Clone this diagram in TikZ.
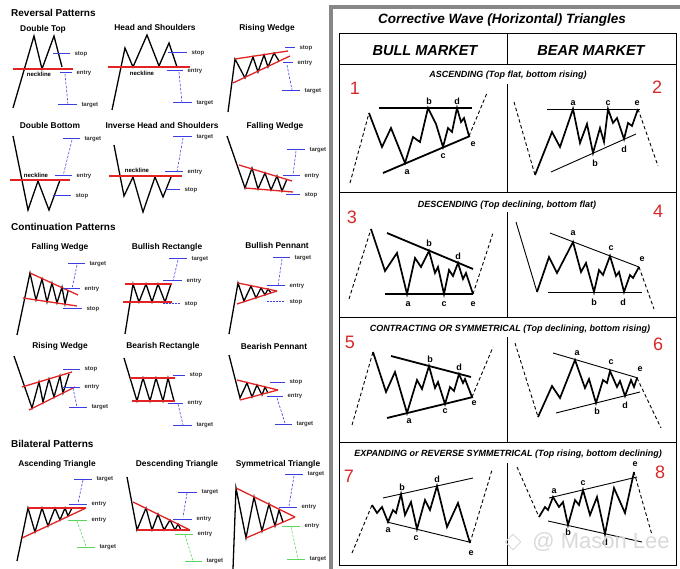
\documentclass[tikz,border=0pt]{standalone}
\usepackage{fontspec}
\setmainfont{Liberation Sans}
\definecolor{lvlblue}{RGB}{60,60,225}
\definecolor{lvlgreen}{RGB}{90,215,90}
\definecolor{trendred}{RGB}{225,35,35}
\definecolor{framegray}{RGB}{135,135,135}
\definecolor{numred}{RGB}{215,40,40}
\begin{document}
\begin{tikzpicture}[x=1pt,y=-1pt,
  zig/.style={line width=1.3pt,line join=miter},
  trend/.style={trendred,line width=1.3pt},
  lvl/.style={lvlblue,line width=1pt},
  glvl/.style={lvlgreen,line width=1pt},
  gap/.style={dashed,dash pattern=on 2.5pt off 1.5pt,line width=.6pt},
  lbl/.style={anchor=west,xshift=3pt,inner sep=1pt,font=\fontsize{6}{7}\selectfont\bfseries,text=black!80},
  nl/.style={inner sep=0pt,font=\fontsize{6}{7}\selectfont\bfseries},
  sec/.style={anchor=west,inner sep=0pt,font=\fontsize{10}{12}\selectfont\bfseries},
  ptitle/.style={inner sep=0pt,font=\fontsize{8.4}{10}\selectfont\bfseries},
  wave/.style={line width=1.7pt,line join=miter},
  bndthick/.style={line width=1.8pt},
  bndthin/.style={line width=.9pt},
  ext/.style={dashed,dash pattern=on 3.5pt off 2.5pt,line width=.9pt},
  wl/.style={inner sep=0pt,font=\fontsize{9}{10}\selectfont\bfseries},
  num/.style={inner sep=0pt,text=numred,font=\fontsize{18}{20}\selectfont},
  sub/.style={inner sep=0pt,font=\fontsize{9}{11}\selectfont\bfseries\itshape},
  mkt/.style={inner sep=0pt,font=\fontsize{14.5}{16}\selectfont\bfseries\itshape}]
\useasboundingbox (0,0) rectangle (680,569);

% ---------- left panel: chart patterns
\node[sec] (rev)  at (11,13)  {Reversal Patterns};
\node[sec] (cont) at (11,227) {Continuation Patterns};
\node[sec] (bil)  at (11,444) {Bilateral Patterns};

\node[ptitle] (t-dtop) at (43,29)  {Double Top};
\node[ptitle] (t-hs)   at (155,28) {Head and Shoulders};
\node[ptitle] (t-rw)   at (267,28) {Rising Wedge};
\node[ptitle] (t-dbot) at (50,126) {Double Bottom};
\node[ptitle] (t-ihs)  at (162,126) {Inverse Head and Shoulders};
\node[ptitle] (t-fw)   at (275,126) {Falling Wedge};
\node[ptitle] (t-cfw)  at (60,247) {Falling Wedge};
\node[ptitle] (t-bur)  at (167,247) {Bullish Rectangle};
\node[ptitle] (t-bup)  at (277,245) {Bullish Pennant};
\node[ptitle] (t-crw)  at (60,346) {Rising Wedge};
\node[ptitle] (t-ber)  at (163,346) {Bearish Rectangle};
\node[ptitle] (t-bep)  at (274,346) {Bearish Pennant};
\node[ptitle] (t-asc)  at (57,464) {Ascending Triangle};
\node[ptitle] (t-desc) at (177,464) {Descending Triangle};
\node[ptitle] (t-sym)  at (278,464) {Symmetrical Triangle};

% double top
\draw[zig] (13,108) -- (34,36) -- (42,69) -- (54,36) -- (62,67);
\draw[trend] (13,69) -- (73,69);
\node[nl] (dtop-nl) at (39,74) {neckline};
\draw[lvl] (53,54) -- (70,54) node[lbl] (dtop-stop) {stop};
\draw[lvl] (60,73) -- (72,73) node[lbl] (dtop-entry) {entry};
\draw[lvl,gap] (65,74) -- (68,105);
\draw[lvl] (58,105) -- (77,105) node[lbl] (dtop-target) {target};

% head and shoulders
\draw[zig] (112,110) -- (125,48) -- (133,67) -- (147,35) -- (159,66) -- (169,43) -- (177,67);
\draw[trend] (108,67) -- (190,67);
\node[nl] (hs-nl) at (142,73) {neckline};
\draw[lvl] (168,53) -- (187,53) node[lbl] (hs-stop) {stop};
\draw[lvl] (167,71) -- (183,71) node[lbl] (hs-entry) {entry};
\draw[lvl,gap] (179,72) -- (182,103);
\draw[lvl] (173,103) -- (192,103) node[lbl] (hs-target) {target};

% rising wedge
\draw[zig] (228,112) -- (235,59) -- (245,78) -- (253,57) -- (258,72) -- (264,55) -- (268,67) -- (274,53) -- (279,61);
\draw[trend] (235,59) -- (288,51);
\draw[trend] (233,83) -- (290,56);
\draw[lvl] (285,48) -- (295,48) node[lbl] (rw-stop) {stop};
\draw[lvl] (283,63) -- (293,63) node[lbl] (rw-entry) {entry};
\draw[lvl,gap] (287,65) -- (292,90);
\draw[lvl] (282,91) -- (300,91) node[lbl] (rw-target) {target};

% double bottom
\draw[zig] (13,136) -- (28,210) -- (38,181) -- (49,210) -- (60,180);
\draw[trend] (10,180) -- (70,180);
\node[nl] (dbot-nl) at (36,175) {neckline};
\draw[lvl] (63,139) -- (80,139) node[lbl] (dbot-target) {target};
\draw[lvl,gap] (72,140) -- (63,176);
\draw[lvl] (55,176) -- (72,176) node[lbl] (dbot-entry) {entry};
\draw[lvl] (53,196) -- (71,196) node[lbl] (dbot-stop) {stop};

% inverse head and shoulders
\draw[zig] (114,145) -- (124,196) -- (133,177) -- (143,212) -- (155,177) -- (163,197) -- (171,177);
\draw[trend] (109,176) -- (182,176);
\node[nl] (ihs-nl) at (137,170) {neckline};
\draw[lvl] (173,137) -- (192,137) node[lbl] (ihs-target) {target};
\draw[lvl,gap] (183,138) -- (177,172);
\draw[lvl] (165,172) -- (183,172) node[lbl] (ihs-entry) {entry};
\draw[lvl] (165,190) -- (180,190) node[lbl] (ihs-stop) {stop};

% falling wedge
\draw[zig] (227,136) -- (245,188) -- (252,168) -- (258,189) -- (265,173) -- (271,190) -- (277,176) -- (282,191) -- (287,179);
\draw[trend] (239,165) -- (292,181);
\draw[trend] (245,188) -- (293,192);
\draw[lvl] (287,150) -- (305,150) node[lbl] (fw-target) {target};
\draw[lvl,gap] (296,151) -- (293,175);
\draw[lvl] (283,176) -- (300,176) node[lbl] (fw-entry) {entry};
\draw[lvl] (286,195) -- (300,195) node[lbl] (fw-stop) {stop};

% falling wedge (continuation)
\draw[zig] (17,335) -- (30,273) -- (36,300) -- (42,279) -- (47,302) -- (52,283) -- (57,303) -- (62,287) -- (65,304) -- (68,291);
\draw[trend] (30,273) -- (78,295);
\draw[trend] (23,298) -- (77,306);
\draw[lvl] (68,264) -- (85,264) node[lbl] (cfw-target) {target};
\draw[lvl,gap] (77,265) -- (72,289);
\draw[lvl] (63,289) -- (80,289) node[lbl] (cfw-entry) {entry};
\draw[lvl] (63,309) -- (82,309) node[lbl] (cfw-stop) {stop};

% bullish rectangle
\draw[zig] (125,334) -- (133,284) -- (139,302) -- (146,284) -- (152,302) -- (158,284) -- (165,302) -- (171,284);
\draw[trend] (125,284) -- (172,284);
\draw[trend] (123,302) -- (172,302);
\draw[lvl] (169,259) -- (187,259) node[lbl] (bur-target) {target};
\draw[lvl,gap] (178,260) -- (173,281);
\draw[lvl] (163,281) -- (182,281) node[lbl] (bur-entry) {entry};
\draw[lvl,dash pattern=on 2pt off 1pt] (163,304) -- (180,304) node[lbl] (bur-stop) {stop};

% bullish pennant
\draw[zig] (229,334) -- (238,283) -- (244,301) -- (251,286) -- (256,298) -- (261,288) -- (265,295) -- (268,289) -- (271,293);
\draw[trend] (238,283) -- (277,291);
\draw[trend] (237,304) -- (277,291);
\draw[lvl] (273,258) -- (290,258) node[lbl] (bup-target) {target};
\draw[lvl,gap] (282,259) -- (278,286);
\draw[lvl] (267,286) -- (285,286) node[lbl] (bup-entry) {entry};
\draw[lvl,dash pattern=on 2pt off 1pt] (267,302) -- (285,302) node[lbl] (bup-stop) {stop};

% rising wedge (continuation)
\draw[zig] (14,356) -- (32,408) -- (39,382) -- (43,402) -- (49,379) -- (54,397) -- (60,376) -- (63,393) -- (69,374);
\draw[trend] (22,387) -- (72,372);
\draw[trend] (29,410) -- (75,387);
\draw[lvl] (63,369) -- (80,369) node[lbl] (crw-stop) {stop};
\draw[lvl] (63,387) -- (80,387) node[lbl] (crw-entry) {entry};
\draw[lvl,gap] (73,388) -- (77,407);
\draw[lvl] (69,407) -- (87,407) node[lbl] (crw-target) {target};

% bearish rectangle
\draw[zig] (124,358) -- (137,401) -- (143,378) -- (150,401) -- (156,378) -- (163,401) -- (168,378) -- (174,401);
\draw[trend] (130,378) -- (175,378);
\draw[trend] (132,401) -- (175,401);
\draw[lvl] (173,375) -- (185,375) node[lbl] (ber-stop) {stop};
\draw[lvl] (168,403) -- (183,403) node[lbl] (ber-entry) {entry};
\draw[lvl,gap] (178,404) -- (183,425);
\draw[lvl] (173,425) -- (192,425) node[lbl] (ber-target) {target};

% bearish pennant
\draw[zig] (229,355) -- (240,398) -- (247,383) -- (252,397) -- (257,385) -- (262,395) -- (265,387) -- (268,393);
\draw[trend] (237,380) -- (278,390);
\draw[trend] (240,400) -- (278,390);
\draw[lvl] (270,382) -- (285,382) node[lbl] (bep-stop) {stop};
\draw[lvl] (267,396) -- (283,396) node[lbl] (bep-entry) {entry};
\draw[lvl,gap] (277,398) -- (285,423);
\draw[lvl] (275,424) -- (292,424) node[lbl] (bep-target) {target};

% ascending triangle
\draw[zig] (17,561) -- (28,508) -- (35,532) -- (42,508) -- (48,526) -- (55,508) -- (60,520) -- (65,508) -- (68,516) -- (72,508);
\draw[trend] (28,508) -- (86,508);
\draw[trend] (22,538) -- (86,508);
\draw[lvl] (74,479) -- (92,479) node[lbl] (asc-target) {target};
\draw[lvl,gap] (83,480) -- (78,503);
\draw[lvl] (69,504) -- (87,504) node[lbl] (asc-entry) {entry};
\draw[glvl] (68,520) -- (87,520) node[lbl] (asc-entry2) {entry};
\draw[glvl,gap] (77,521) -- (86,546);
\draw[glvl] (77,547) -- (95,547) node[lbl] (asc-target2) {target};

% descending triangle
\draw[zig] (127,477) -- (137,530) -- (146,508) -- (152,530) -- (158,514) -- (164,530) -- (170,520) -- (175,530) -- (178,524) -- (181,530);
\draw[trend] (133,502) -- (190,530);
\draw[trend] (137,530) -- (190,530);
\draw[lvl] (178,492) -- (197,492) node[lbl] (desc-target) {target};
\draw[lvl,gap] (187,493) -- (183,517);
\draw[lvl] (173,519) -- (192,519) node[lbl] (desc-entry) {entry};
\draw[glvl] (175,534) -- (193,534) node[lbl] (desc-entry2) {entry};
\draw[glvl,gap] (185,535) -- (193,561);
\draw[glvl] (185,561) -- (202,561) node[lbl] (desc-target2) {target};

% symmetrical triangle
\draw[zig] (233,569) -- (236,488) -- (246,538) -- (254,497) -- (262,531) -- (269,504) -- (275,526) -- (279,510) -- (283,522);
\draw[trend] (236,488) -- (295,517);
\draw[trend] (246,538) -- (295,517);
\draw[lvl] (285,474) -- (303,474) node[lbl] (sym-target) {target};
\draw[lvl,gap] (294,476) -- (289,506);
\draw[lvl] (279,507) -- (297,507) node[lbl] (sym-entry) {entry};
\draw[glvl] (282,526) -- (300,526) node[lbl] (sym-entry2) {entry};
\draw[glvl,gap] (291,527) -- (298,559);
\draw[glvl] (287,559) -- (305,559) node[lbl] (sym-target2) {target};

% ---------- right panel: corrective triangles
\draw[framegray,line width=4pt] (331,7) rectangle (690,580);
\draw[line width=.8pt] (339,33) rectangle (676,565);
\draw[line width=.8pt] (339,64) -- (676,64);
\foreach \y in {192,317,442}
  \draw[line width=.8pt] (339,\y) -- (676,\y);
\draw[line width=.8pt] (507,33) -- (507,64);
\draw[line width=.8pt] (507,84) -- (507,192) (507,212) -- (507,317)
                       (507,337) -- (507,442) (507,463) -- (507,565);

\node[inner sep=0pt,font=\fontsize{13.5}{15}\selectfont\bfseries\itshape] (title) at (502,20) {Corrective Wave (Horizontal) Triangles};
\node[mkt] (bull) at (425,51) {BULL MARKET};
\node[mkt] (bear) at (591,51) {BEAR MARKET};

\node[sub] (s-asc) at (508,75)  {ASCENDING (Top flat, bottom rising)};
\node[sub] (s-desc) at (507,205) {DESCENDING (Top declining, bottom flat)};
\node[sub] (s-con) at (510,329) {CONTRACTING OR SYMMETRICAL (Top declining, bottom rising)};
\node[sub] (s-exp) at (508,454) {EXPANDING or REVERSE SYMMETRICAL (Top rising, bottom declining)};

\node[num] (n1) at (355,88) {1};
\node[num] (n2) at (657,87) {2};
\node[num] (n3) at (352,217) {3};
\node[num] (n4) at (658,211) {4};
\node[num] (n5) at (350,342) {5};
\node[num] (n6) at (658,344) {6};
\node[num] (n7) at (349,476) {7};
\node[num] (n8) at (660,472) {8};

% 1: bull, ascending
\draw[ext] (350,183) -- (369,113);
\draw[wave] (369,113) -- (382,147) -- (391,128) -- (405,163) -- (413,137) -- (420,142) -- (428,108) -- (436,124) -- (443,147) -- (448,128) -- (452,132) -- (457,108) -- (461,122) -- (464,118) -- (469,136);
\draw[ext] (469,136) -- (487,93);
\draw[bndthick] (379,108) -- (472,108);
\draw[bndthick] (383,173) -- (470,136);
\path (429,101) node[wl] (w1b) {b} (457,101) node[wl] (w1d) {d}
      (407,172) node[wl] (w1a) {a} (443,156) node[wl] (w1c) {c} (473,144) node[wl] (w1e) {e};

% 2: bear, ascending
\draw[ext] (514,102) -- (535,175);
\draw[wave] (535,175) -- (552,132) -- (560,147) -- (573,109) -- (580,143) -- (587,124) -- (593,153) -- (600,128) -- (604,142) -- (608,109) -- (613,123) -- (617,118) -- (624,139) -- (628,123) -- (632,126) -- (638,109);
\draw[ext] (638,109) -- (658,166);
\draw[bndthin] (547,109) -- (640,109);
\draw[bndthin] (551,172) -- (636,134);
\path (573,103) node[wl] (w2a) {a} (608,103) node[wl] (w2c) {c} (637,103) node[wl] (w2e) {e}
      (595,163) node[wl] (w2b) {b} (624,149) node[wl] (w2d) {d};

% 3: bull, descending
\draw[ext] (349,299) -- (371,229);
\draw[wave] (371,229) -- (385,271) -- (397,253) -- (407,294) -- (415,258) -- (421,267) -- (429,251) -- (435,273) -- (438,267) -- (444,294) -- (449,270) -- (453,276) -- (458,263) -- (463,279) -- (466,273) -- (473,294);
\draw[ext] (473,294) -- (493,233);
\draw[bndthick] (387,233) -- (473,269);
\draw[bndthick] (385,294) -- (473,294);
\path (429,243) node[wl] (w3b) {b} (458,256) node[wl] (w3d) {d}
      (408,304) node[wl] (w3a) {a} (444,304) node[wl] (w3c) {c} (473,304) node[wl] (w3e) {e};

% 4: bear, descending
\draw[bndthin] (516,222) -- (537,292);
\draw[wave] (537,292) -- (549,257) -- (557,273) -- (573,242) -- (581,272) -- (586,263) -- (594,292) -- (599,270) -- (603,275) -- (610,256) -- (616,276) -- (619,272) -- (624,292) -- (630,275) -- (633,278) -- (639,267);
\draw[ext] (639,267) -- (654,309);
\draw[bndthin] (550,233) -- (639,267);
\draw[bndthin] (548,292) -- (642,292);
\path (573,233) node[wl] (w4a) {a} (611,248) node[wl] (w4c) {c} (642,259) node[wl] (w4e) {e}
      (594,302) node[wl] (w4b) {b} (623,302) node[wl] (w4d) {d};

% 5: bull, contracting
\draw[ext] (352,425) -- (373,352);
\draw[wave] (373,352) -- (386,392) -- (395,372) -- (407,413) -- (417,380) -- (422,389) -- (429,366) -- (435,388) -- (438,382) -- (445,404) -- (450,387) -- (454,391) -- (459,374) -- (463,383) -- (465,379) -- (472,397);
\draw[ext] (472,397) -- (493,347);
\draw[bndthick] (391,356) -- (471,377);
\draw[bndthick] (387,418) -- (473,397);
\path (430,359) node[wl] (w5b) {b} (459,367) node[wl] (w5d) {d}
      (409,421) node[wl] (w5a) {a} (445,411) node[wl] (w5c) {c} (474,403) node[wl] (w5e) {e};

% 6: bear, contracting
\draw[ext] (515,343) -- (538,417);
\draw[wave] (538,417) -- (552,386) -- (560,398) -- (575,360) -- (585,388) -- (589,379) -- (596,403) -- (603,380) -- (607,383) -- (610,371) -- (617,387) -- (620,381) -- (625,396) -- (631,380) -- (634,387) -- (637,378);
\draw[ext] (637,378) -- (661,428);
\draw[bndthin] (553,353) -- (638,378);
\draw[bndthin] (556,413) -- (640,392);
\path (577,353) node[wl] (w6a) {a} (611,362) node[wl] (w6c) {c} (640,369) node[wl] (w6e) {e}
      (597,411) node[wl] (w6b) {b} (625,405) node[wl] (w6d) {d};

% 7: bull, expanding
\draw[ext] (352,553) -- (372,505);
\draw[wave] (372,505) -- (377,513) -- (382,507) -- (388,522) -- (393,510) -- (396,513) -- (401,494) -- (405,515) -- (411,502) -- (417,529) -- (425,500) -- (430,510) -- (437,486) -- (447,527) -- (458,503) -- (470,543);
\draw[ext] (470,543) -- (492,470);
\draw[bndthin] (383,498) -- (473,478);
\draw[bndthin] (387,522) -- (469,542);
\path (402,487) node[wl] (w7b) {b} (437,479) node[wl] (w7d) {d}
      (388,530) node[wl] (w7a) {a} (416,538) node[wl] (w7c) {c} (471,553) node[wl] (w7e) {e};

% 8: bear, expanding
\draw[ext] (517,467) -- (539,517);
\draw[wave] (539,517) -- (545,507) -- (548,510) -- (553,497) -- (559,507) -- (563,502) -- (568,525) -- (575,500) -- (579,505) -- (583,490) -- (590,515) -- (597,497) -- (605,534) -- (614,488) -- (625,513) -- (634,472);
\draw[ext] (634,472) -- (652,535);
\draw[bndthin] (549,498) -- (637,477);
\draw[bndthin] (548,521) -- (642,542);
\path (554,491) node[wl] (w8a) {a} (583,483) node[wl] (w8c) {c} (635,464) node[wl] (w8e) {e}
      (568,532) node[wl] (w8b) {b} (605,542) node[wl] (w8d) {d};

% watermark
\node[draw=gray!30,line width=1pt,rotate=45,minimum size=11pt,inner sep=0pt] (logo) at (513,542) {};
\node[inner sep=0pt,text=gray!30,font=\fontsize{22}{24}\selectfont] (mark) at (601,542) {@ Mason Lee};
\end{tikzpicture}
\end{document}
